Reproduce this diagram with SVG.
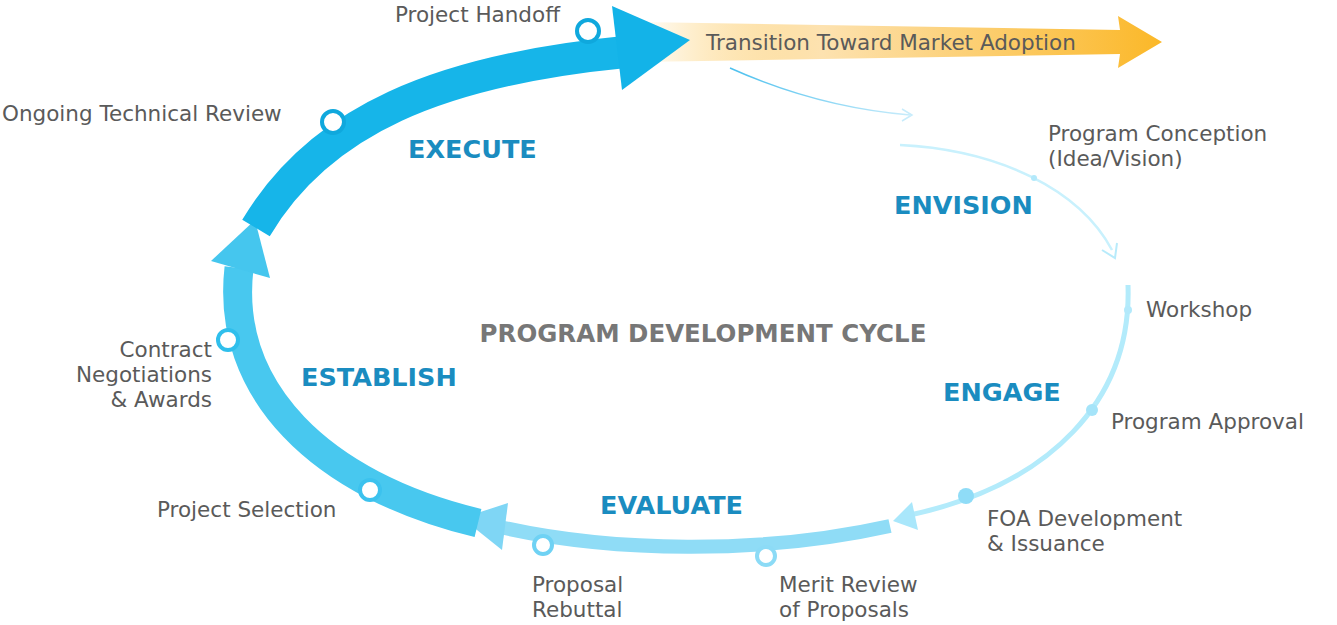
<svg xmlns="http://www.w3.org/2000/svg" width="1337" height="625" viewBox="0 0 1337 625">
<defs>
<linearGradient id="og" x1="640" y1="0" x2="1160" y2="0" gradientUnits="userSpaceOnUse">
<stop offset="0" stop-color="#fbb829" stop-opacity="0"/><stop offset="0.35" stop-color="#fde2b0"/><stop offset="1" stop-color="#fbb829"/></linearGradient>
<linearGradient id="lg" x1="730" y1="0" x2="910" y2="0" gradientUnits="userSpaceOnUse">
<stop offset="0" stop-color="#4cc0ee"/><stop offset="1" stop-color="#c8ecfb"/></linearGradient>
</defs>
<style>
.t{font-family:"DejaVu Sans",Verdana,sans-serif;font-size:21.5px;fill:#5a5a5a}
.p{font-family:"DejaVu Sans",Verdana,sans-serif;font-size:25.5px;font-weight:bold;fill:#1a8cc0}
.d{fill:#fff;stroke-width:4}
</style>
<rect width="1337" height="625" fill="#fff"/>
<g id="market">
<polygon points="640,22 1120,30 1118,16 1162,42 1118,68 1120,54 640,62" fill="url(#og)"/>
<text class="t" x="706" y="50">Transition Toward Market Adoption</text>
</g>
<g id="connectors" fill="none">
<path d="M730,68 C790,95 850,110 910,115" stroke="url(#lg)" stroke-width="1.5"/>
<path d="M902,109 L912,115 L902,121" stroke="#c8ecfb" stroke-width="1.5"/>
<path d="M900,145 C1000,150 1080,190 1112,250" stroke="#c9f1fd" stroke-width="2.5"/>
<path d="M1102,250 L1115,258 L1117,243" stroke="#b8ebfb" stroke-width="2"/>
<path d="M1128,285 C1132,400 1050,485 910,515" stroke="#b3ebfb" stroke-width="5"/>
<polygon points="912,502 893,521 918,530" fill="#a9e7fb"/>
<path d="M890,526 C760,555 610,552 500,527" stroke="#8fdcf6" stroke-width="14"/>
<polygon points="508,503 462,518 502,550" fill="#7fd6f5"/>
<path d="M478,523 C320,485 225,390 239,268" stroke="#48c8ef" stroke-width="29"/>
<polygon points="211,261 255,220 270,278" fill="#45c6ee"/>
<path d="M256,228 C320,120 440,70 625,52" stroke="#16b5e9" stroke-width="32"/>
<polygon points="612,6 690,40 622,90" fill="#13b3e8"/>
</g>
<g id="dots">
<circle class="d" cx="588" cy="31" r="11" stroke="#0fa8dd"/>
<circle class="d" cx="333" cy="122" r="11" stroke="#0fa8dd"/>
<circle class="d" cx="228" cy="340" r="10" stroke="#2fbfec"/>
<circle class="d" cx="370" cy="490" r="10" stroke="#3cc2ee"/>
<circle class="d" cx="543" cy="545" r="9" stroke="#6fd2f4"/>
<circle class="d" cx="766" cy="556" r="9" stroke="#8cdbf6"/>
<circle cx="966" cy="496" r="8" fill="#8fdcf7"/>
<circle cx="1092" cy="410" r="6" fill="#a5e4f9"/>
<circle cx="1128" cy="310" r="4" fill="#b3e9fb"/>
<circle cx="1034" cy="178" r="3" fill="#b3e9fb"/>
</g>
<g id="labels">
<text class="t" x="395" y="22">Project Handoff</text>
<text class="t" x="2" y="121">Ongoing Technical Review</text>
<text class="t" x="1048" y="141">Program Conception</text>
<text class="t" x="1048" y="166">(Idea/Vision)</text>
<text class="t" x="1146" y="317">Workshop</text>
<text class="t" x="1111" y="429">Program Approval</text>
<text class="t" x="987" y="526">FOA Development</text>
<text class="t" x="987" y="551">&amp; Issuance</text>
<text class="t" x="779" y="592">Merit Review</text>
<text class="t" x="779" y="617">of Proposals</text>
<text class="t" x="532" y="592">Proposal</text>
<text class="t" x="532" y="617">Rebuttal</text>
<text class="t" x="157" y="517">Project Selection</text>
<text class="t" x="212" y="357" text-anchor="end">Contract</text>
<text class="t" x="212" y="382" text-anchor="end">Negotiations</text>
<text class="t" x="212" y="407" text-anchor="end">&amp; Awards</text>
<text class="p" x="408" y="158">EXECUTE</text>
<text class="p" x="894" y="214">ENVISION</text>
<text class="p" x="943" y="401">ENGAGE</text>
<text class="p" x="600" y="514">EVALUATE</text>
<text class="p" x="301" y="386">ESTABLISH</text>
<text x="703" y="342" text-anchor="middle" style="font-family:'DejaVu Sans',Verdana,sans-serif;font-size:24.5px;font-weight:bold;fill:#777">PROGRAM DEVELOPMENT CYCLE</text>
</g>
</svg>
